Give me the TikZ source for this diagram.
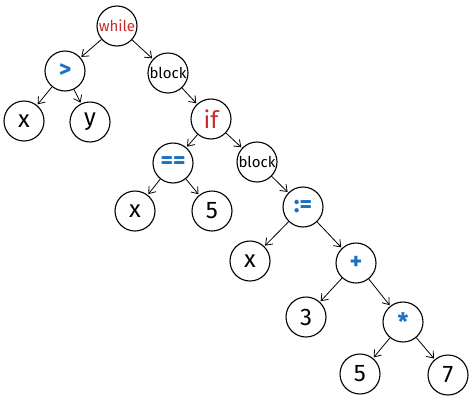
\documentclass[tikz,border=0pt]{standalone}
\usepackage{fontspec}
\setmainfont{Fira Sans}
\usetikzlibrary{arrows.meta}
\definecolor{kwred}{HTML}{C92A2A}
\definecolor{opblue}{HTML}{1971C2}

\begin{document}
\begin{tikzpicture}[x=1pt, y=-1pt,
        ast/.style={circle, draw, line width = 1.1pt, minimum size=40pt, inner sep=0pt, font=\fontsize{24}{24}\selectfont},
        word/.style={ast, font=\fontsize{15}{15}\selectfont},
        kw/.style={text=kwred},
        op/.style={text=opblue, font=\fontsize{24}{24}\selectfont\bfseries},
        edge/.style={-{Straight Barb[length=6pt,width=9pt]}, line width = 0.8pt, shorten >=1pt}]
                    \useasboundingbox (0,0) rectangle (474,402);

                    \node[word,kw] (while) at (117,26) {while};
                    \node[ast,op] (gt) at (65,71) {>};
                    \node[word] (blockA) at (168,73) {block};
                    \node[ast] (x1) at (24,121) {x};
                    \node[ast] (y1) at (90,122) {y};
                    \node[ast,kw] (if) at (211,119) {if};

                    \node[ast,op] (eq) at (173,163) {==};
                    \node[word] (blockB) at (257,162) {block};
                    \node[ast] (x2) at (135,211) {x};
                    \node[ast] (five1) at (212,211) {5};
                    \node[ast,op] (assign) at (303,207) {:=};

                    \node[ast] (x3) at (250,261) {x};
                    \node[ast,op] (plus) at (356,263) {+};
                    \node[ast] (three) at (306,317) {3};
                    \node[ast,op] (times) at (403,322) {*};
                    \node[ast] (five2) at (360,374) {5};
                    \node[ast] (seven) at (448,375) {7};

                    \draw[edge] (while) -- (gt);
                    \draw[edge] (while) -- (blockA);
                    \draw[edge] (gt) -- (x1);
                    \draw[edge] (gt) -- (y1);
                    \draw[edge] (blockA) -- (if);
                    \draw[edge] (if) -- (eq);
                    \draw[edge] (if) -- (blockB);
                    \draw[edge] (eq) -- (x2);
                    \draw[edge] (eq) -- (five1);
                    \draw[edge] (blockB) -- (assign);
                    \draw[edge] (assign) -- (x3);
                    \draw[edge] (assign) -- (plus);
                    \draw[edge] (plus) -- (three);
                    \draw[edge] (plus) -- (times);
                    \draw[edge] (times) -- (five2);
                    \draw[edge] (times) -- (seven);
\end{tikzpicture}
\end{document}
